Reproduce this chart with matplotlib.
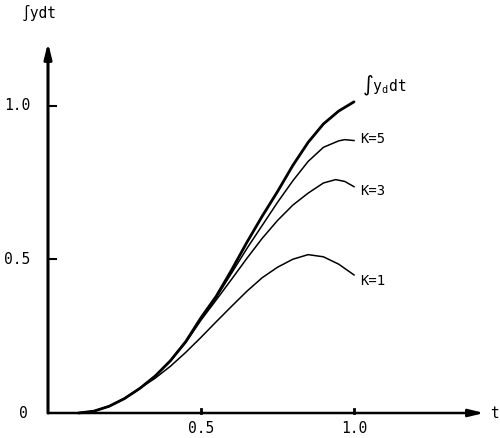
import matplotlib
matplotlib.use("Agg")
import matplotlib.pyplot as plt

plt.rcParams['font.family'] = ['DejaVu Sans Mono', 'DejaVu Sans']
plt.rcParams['mathtext.default'] = 'regular'

# ---- data ----
t_ideal = [0.10, 0.15, 0.20, 0.25, 0.30, 0.35, 0.40, 0.45, 0.50, 0.55, 0.60, 0.65,
           0.70, 0.75, 0.80, 0.85, 0.90, 0.95, 1.00]
y_ideal = [0.0, 0.006, 0.022, 0.047, 0.08, 0.12, 0.17, 0.232, 0.31, 0.38, 0.465, 0.555,
           0.64, 0.72, 0.805, 0.88, 0.94, 0.982, 1.012]

t_k5 = [0.10, 0.15, 0.20, 0.25, 0.30, 0.35, 0.40, 0.45, 0.50, 0.55, 0.60, 0.65,
        0.70, 0.75, 0.80, 0.85, 0.90, 0.95, 0.97, 1.00]
y_k5 = [0.0, 0.006, 0.022, 0.047, 0.08, 0.12, 0.17, 0.231, 0.307, 0.376, 0.455, 0.535,
        0.61, 0.685, 0.755, 0.818, 0.864, 0.885, 0.889, 0.886]

t_k3 = [0.10, 0.15, 0.20, 0.25, 0.30, 0.35, 0.40, 0.45, 0.50, 0.55, 0.60, 0.65,
        0.70, 0.75, 0.80, 0.85, 0.90, 0.94, 0.97, 1.00]
y_k3 = [0.0, 0.006, 0.022, 0.047, 0.08, 0.12, 0.169, 0.229, 0.302, 0.368, 0.435, 0.503,
        0.568, 0.626, 0.676, 0.715, 0.748, 0.759, 0.753, 0.736]

t_k1 = [0.10, 0.15, 0.20, 0.25, 0.30, 0.35, 0.40, 0.45, 0.50, 0.55, 0.60, 0.65,
        0.70, 0.75, 0.80, 0.85, 0.90, 0.95, 1.00]
y_k1 = [0.0, 0.006, 0.022, 0.047, 0.08, 0.113, 0.152, 0.197, 0.246, 0.297, 0.347, 0.396,
        0.44, 0.474, 0.5, 0.515, 0.508, 0.484, 0.449]

x_ticks = [0.5, 1.0]
x_tick_labels = ["0.5", "1.0"]
y_ticks = [0.5, 1.0]
y_tick_labels = ["0.5", "1.0"]

curve_labels = ["K=5", "K=3", "K=1"]

# ---- figure ----
fig = plt.figure(figsize=(5.0, 4.38), dpi=100)
ax = fig.add_axes([0, 0, 1, 1])
ax.set_xlim(-48 / 306, (500 - 48) / 306)
ax.set_ylim(-(438 - 413) / 307.5, 413 / 307.5)
ax.set_axis_off()

# axes with arrows
ax.annotate('', xy=(1.425, 0), xytext=(0, 0),
            arrowprops=dict(arrowstyle='-|>,head_length=0.9,head_width=0.22',
                            lw=1.8, color='black', shrinkA=0, shrinkB=0))
ax.annotate('', xy=(0, 1.205), xytext=(0, 0),
            arrowprops=dict(arrowstyle='-|>,head_length=0.9,head_width=0.22',
                            lw=2.2, color='black', shrinkA=0, shrinkB=0))

# ticks
for xt, lab in zip(x_ticks, x_tick_labels):
    ax.plot([xt, xt], [0, 0.014], color='black', lw=2)
    ax.text(xt, -0.052, lab, ha='center', va='center', fontsize=10.5)
for yt, lab in zip(y_ticks, y_tick_labels):
    ax.plot([0, 0.026], [yt, yt], color='black', lw=1.5)
    ax.text(-0.058, yt, lab, ha='right', va='center', fontsize=10.5)
ax.text(-0.065, 0, "0", ha='right', va='center', fontsize=10.5)
ax.text(1.472, 0.0, "t", ha='right', va='center', fontsize=10.5)

# curves
ax.plot(t_ideal, y_ideal, color='black', lw=2.0, solid_capstyle='round',
        solid_joinstyle='round')
for tt, yy in [(t_k5, y_k5), (t_k3, y_k3), (t_k1, y_k1)]:
    ax.plot(tt, yy, color='black', lw=1.1, solid_joinstyle='round')

# labels
ax.text(-0.088, 1.30, "∫ydt", ha='left', va='center', fontsize=10.5)
ax.text(1.025, 1.065, "∫y$_{d}$dt", ha='left', va='center', fontsize=10.5)
for lab, yy in zip(curve_labels, [0.891, 0.722, 0.428]):
    ax.text(1.02, yy, lab, ha='left', va='center', fontsize=10)

fig.savefig("out.png", dpi=100)
